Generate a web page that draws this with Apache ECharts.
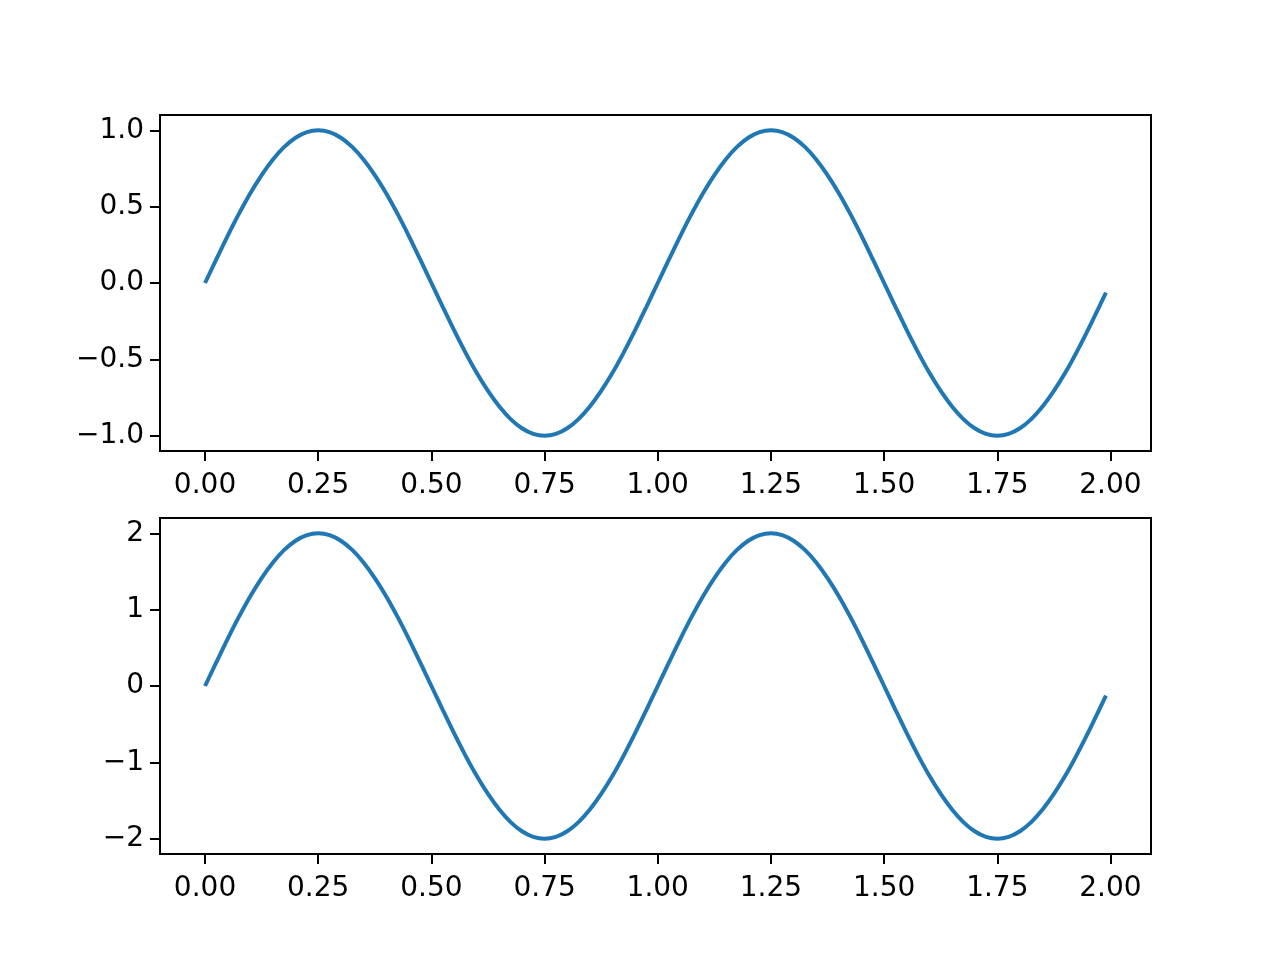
<!DOCTYPE html>
<html>
<head>
<meta charset="utf-8">
<script src="https://cdn.jsdelivr.net/npm/echarts@6/dist/echarts.min.js"></script>
<style>html,body{margin:0;padding:0;background:#fff;}#c{width:1280px;height:960px;}</style>
</head>
<body>
<div id="c"></div>
<script>
const tValues = [0, 0.025, 0.05, 0.075, 0.1, 0.125, 0.15, 0.175, 0.2, 0.225, 0.25, 0.275, 0.3, 0.325, 0.35, 0.375, 0.4, 0.425, 0.45, 0.475,
  0.5, 0.525, 0.55, 0.575, 0.6, 0.625, 0.65, 0.675, 0.7, 0.725, 0.75, 0.775, 0.8, 0.825, 0.85, 0.875, 0.9, 0.925, 0.95, 0.975,
  1, 1.025, 1.05, 1.075, 1.1, 1.125, 1.15, 1.175, 1.2, 1.225, 1.25, 1.275, 1.3, 1.325, 1.35, 1.375, 1.4, 1.425, 1.45, 1.475,
  1.5, 1.525, 1.55, 1.575, 1.6, 1.625, 1.65, 1.675, 1.7, 1.725, 1.75, 1.775, 1.8, 1.825, 1.85, 1.875, 1.9, 1.925, 1.95, 1.975, 1.99];
const topValues = [0, 0.156, 0.309, 0.454, 0.588, 0.707, 0.809, 0.891, 0.951, 0.988, 1, 0.988, 0.951, 0.891, 0.809, 0.707, 0.588, 0.454, 0.309, 0.156,
  0, -0.156, -0.309, -0.454, -0.588, -0.707, -0.809, -0.891, -0.951, -0.988, -1, -0.988, -0.951, -0.891, -0.809, -0.707, -0.588, -0.454, -0.309, -0.156,
  0, 0.156, 0.309, 0.454, 0.588, 0.707, 0.809, 0.891, 0.951, 0.988, 1, 0.988, 0.951, 0.891, 0.809, 0.707, 0.588, 0.454, 0.309, 0.156,
  0, -0.156, -0.309, -0.454, -0.588, -0.707, -0.809, -0.891, -0.951, -0.988, -1, -0.988, -0.951, -0.891, -0.809, -0.707, -0.588, -0.454, -0.309, -0.156, -0.063];
const bottomValues = [0, 0.312, 0.618, 0.908, 1.176, 1.414, 1.618, 1.782, 1.902, 1.975, 2, 1.975, 1.902, 1.782, 1.618, 1.414, 1.176, 0.908, 0.618, 0.312,
  0, -0.312, -0.618, -0.908, -1.176, -1.414, -1.618, -1.782, -1.902, -1.975, -2, -1.975, -1.902, -1.782, -1.618, -1.414, -1.176, -0.908, -0.618, -0.312,
  0, 0.312, 0.618, 0.908, 1.176, 1.414, 1.618, 1.782, 1.902, 1.975, 2, 1.975, 1.902, 1.782, 1.618, 1.414, 1.176, 0.908, 0.618, 0.312,
  0, -0.312, -0.618, -0.908, -1.176, -1.414, -1.618, -1.782, -1.902, -1.975, -2, -1.975, -1.902, -1.782, -1.618, -1.414, -1.176, -0.908, -0.618, -0.312, -0.126];
const xTicks = [0, 0.25, 0.5, 0.75, 1, 1.25, 1.5, 1.75, 2];
const topYTicks = [-1, -0.5, 0, 0.5, 1];
const bottomYTicks = [-2, -1, 0, 1, 2];

const FONT = 'DejaVu Sans';
const minus = '\u2212';
function fmt(v, d) { const s = Math.abs(v).toFixed(d); return v < 0 ? minus + s : s; }

function xAxis(gi) {
  return {
    type: 'value', gridIndex: gi, min: -0.0995, max: 2.0895,
    splitLine: { show: false },
    axisLine: { show: true, onZero: false, lineStyle: { color: '#000', width: 2 } },
    axisTick: { show: true, customValues: xTicks, length: 10, lineStyle: { color: '#000', width: 2 } },
    axisLabel: { customValues: xTicks, formatter: v => fmt(v, 2), color: '#000', fontFamily: FONT, fontSize: 28, margin: 21 }
  };
}
function yAxis(gi, lim, ticks, d) {
  return {
    type: 'value', gridIndex: gi, min: -lim, max: lim,
    splitLine: { show: false },
    axisLine: { show: true, onZero: false, lineStyle: { color: '#000', width: 2 } },
    axisTick: { show: true, customValues: ticks, length: 10, lineStyle: { color: '#000', width: 2 } },
    axisLabel: { customValues: ticks, formatter: v => fmt(v, d), color: '#000', fontFamily: FONT, fontSize: 28, margin: 16 }
  };
}
const pair = (ys) => tValues.map((t, i) => [t, ys[i]]);

const chart = echarts.init(document.getElementById('c'), null, { renderer: 'canvas' });
chart.setOption({
  backgroundColor: '#fff',
  animation: false,
  grid: [
    { left: 160, top: 115, width: 991, height: 336, show: true, borderColor: '#000', borderWidth: 2, backgroundColor: 'transparent' },
    { left: 160, top: 518, width: 991, height: 336, show: true, borderColor: '#000', borderWidth: 2, backgroundColor: 'transparent' }
  ],
  xAxis: [xAxis(0), xAxis(1)],
  yAxis: [yAxis(0, 1.1, topYTicks, 1), yAxis(1, 2.2, bottomYTicks, 0)],
  series: [
    { type: 'line', xAxisIndex: 0, yAxisIndex: 0, data: pair(topValues), smooth: 0.3, showSymbol: false, lineStyle: { color: '#1f77b4', width: 4 } },
    { type: 'line', xAxisIndex: 1, yAxisIndex: 1, data: pair(bottomValues), smooth: 0.3, showSymbol: false, lineStyle: { color: '#1f77b4', width: 4 } }
  ]
});
</script>
</body>
</html>
